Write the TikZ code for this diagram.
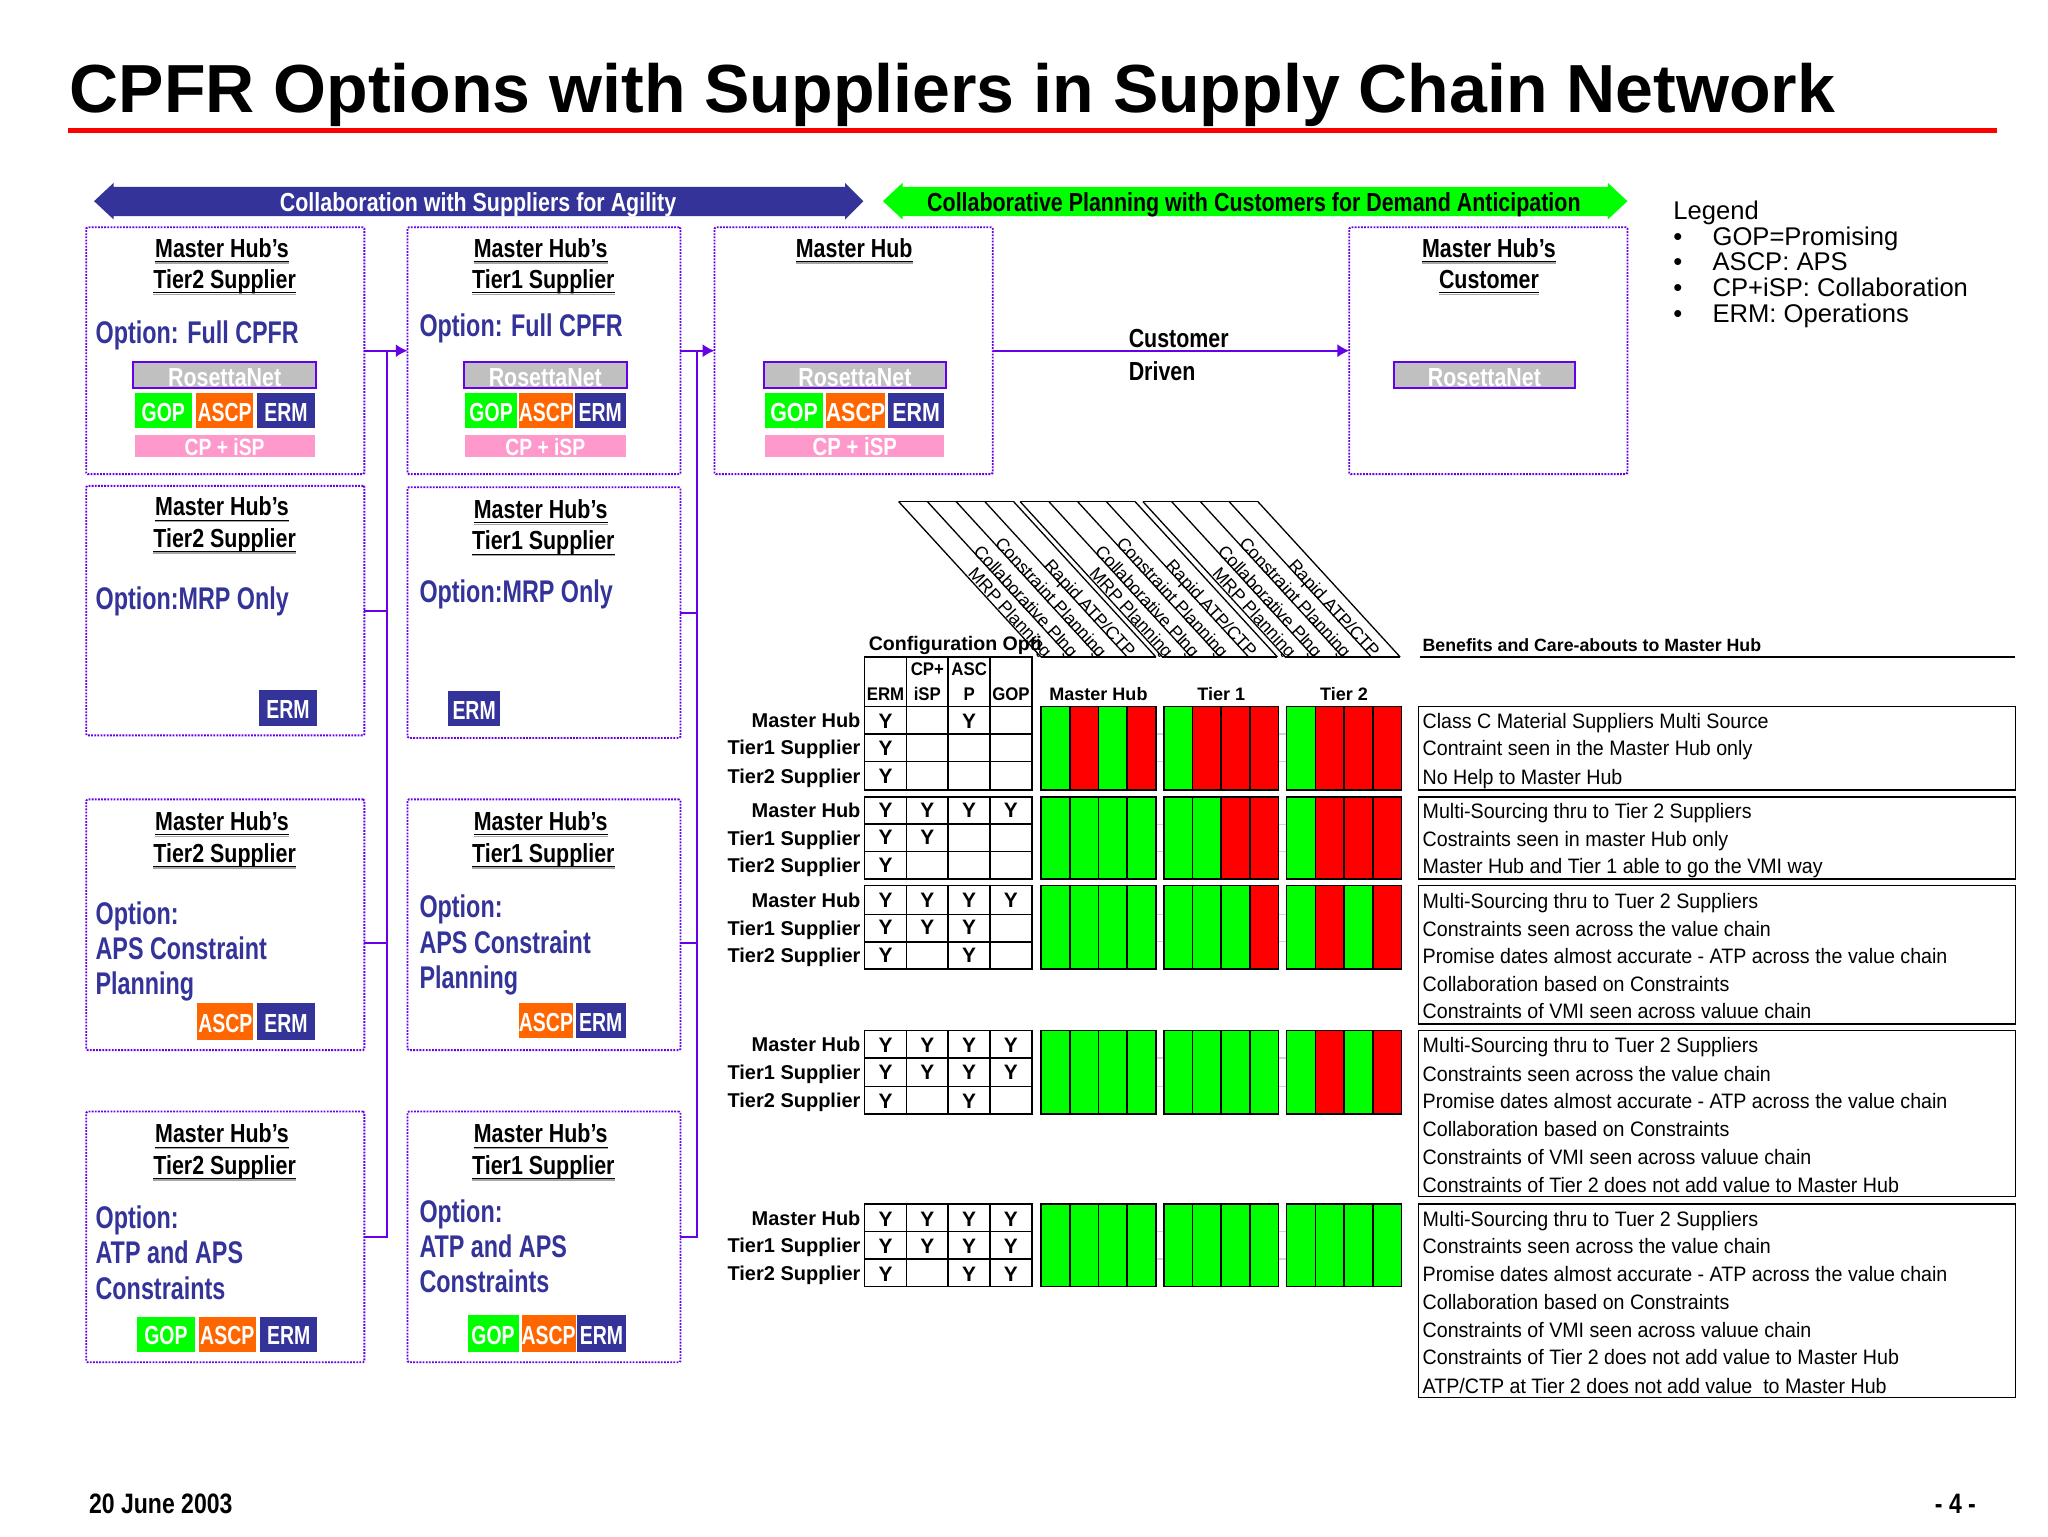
\documentclass[tikz,border=0pt]{standalone}
\usepackage{fontspec}
\usetikzlibrary{arrows.meta}
\setmainfont{Liberation Sans}
\newfontfamily\nar[FakeStretch=0.82]{Liberation Sans}
\newfontfamily\narr[FakeStretch=0.745]{Liberation Sans}
\newfontfamily\narb[FakeStretch=0.92]{Liberation Sans}
\newfontfamily\narc[FakeStretch=0.94]{Liberation Sans}
\definecolor{cBlue}{HTML}{333399}
\definecolor{cGreen}{HTML}{00FF00}
\definecolor{cRed}{HTML}{FF0000}
\definecolor{cOrange}{HTML}{FF6600}
\definecolor{cPink}{HTML}{FF99CC}
\definecolor{cGray}{HTML}{C0C0C0}
\definecolor{cPurple}{HTML}{6600E6}
\tikzset{
  x=1pt,y=-1pt,
  tb/.style={text height={0.9*#1pt},text depth={0.18*#1pt}},
  dbox/.style={draw=cPurple,line width=1.4pt,densely dotted,rounded corners=1pt,inner sep=0pt,outer sep=0pt},
  conn/.style={draw=cPurple,line width=1.5pt},
  arr/.style={conn,-{Latex[length=9pt,width=10pt]}},
  ttl/.style={font=\nar\bfseries\fontsize{20}{24}\selectfont,text=black,inner sep=0pt,text height=17pt,text depth=3pt},
  opt/.style={font=\narr\bfseries\fontsize{24}{28}\selectfont,text=cBlue,inner sep=0pt,anchor=west,tb=24},
  chip/.style={font=\narr\bfseries\fontsize{20}{24}\selectfont,text=white,inner sep=0pt,outer sep=0pt,text height=16.4pt,text depth=0pt},
  chips/.style={font=\nar\bfseries\fontsize{18}{24}\selectfont,text=white,inner sep=0pt,outer sep=0pt,text height=14pt,text depth=0pt},
  chipw/.style={font=\nar\bfseries\fontsize{20}{24}\selectfont,text=white,inner sep=0pt,outer sep=0pt,text height=16.4pt,text depth=0pt},
  chipv/.style={font=\nar\bfseries\fontsize{19}{24}\selectfont,text=white,inner sep=0pt,outer sep=0pt,text height=14.5pt,text depth=0pt},
  rosetta/.style={chipw,fill=cGray,draw=cPurple,line width=1.4pt,text height=18pt,text depth=0pt},
  bar/.style={font=\nar\bfseries\fontsize{20}{26}\selectfont,inner sep=0pt,tb=20},
  lgd/.style={font=\fontsize{19.6}{24}\selectfont,inner sep=0pt,anchor=west,tb=19.6},
  tl/.style={line width=1.2pt,draw=black},
  tick/.style={line width=1pt,draw=gray!35},
  rowlab/.style={font=\bfseries\fontsize{15.3}{18}\selectfont,inner sep=0pt,anchor=east,tb=15.3},
  yy/.style={font=\bfseries\fontsize{16}{18}\selectfont,inner sep=0pt,tb=16},
  hd/.style={font=\narb\bfseries\fontsize{14}{16}\selectfont,inner sep=0pt,tb=14},
  gh/.style={font=\bfseries\fontsize{13.8}{17}\selectfont,inner sep=0pt,tb=13.8},
  slant/.style={font=\fontsize{13.6}{16}\selectfont,inner sep=0pt,rotate=-47.5,anchor=east},
  ben/.style={font=\narc\fontsize{16}{18}\selectfont,inner sep=0pt,anchor=west,tb=16},
  foot/.style={font=\nar\bfseries\fontsize{21.5}{24}\selectfont,inner sep=0pt,tb=21.5},
  drv/.style={font=\nar\bfseries\fontsize{20}{24}\selectfont,inner sep=0pt,anchor=west,tb=20},
}
% name, x1,y1,x2,y2
\newcommand\dotbox[5]{\node[dbox,minimum width={#4-#2},minimum height={#5-#3}] (#1) at ({(#2+#4)/2},{(#3+#5)/2}) {};}
% name,x,y,text
\newcommand\ttlnode[4]{\node[ttl] (#1) at (#2,#3) {#4};
  \draw[gray!70,line width=1.1pt] ([yshift=-1.2pt]#1.south west) -- ([yshift=-1.2pt]#1.south east);
  \draw[black,line width=.8pt] (#1.south west) -- (#1.south east);}
% name,x1,y1,x2,y2,colour,text,style
\newcommand\chipnode[8]{\node[#8,fill=#6,minimum width={#4-#2},minimum height={#5-#3}] (#1) at ({(#2+#4)/2},{(#3+#5)/2}) {#7};}
% y-top,y-bot,x0,c1..c4
\newcommand\blk[7]{\foreach \ii/\cc in {0/#4,1/#5,2/#6,3/#7}{\fill[\cc] ({#3+22*\ii},#1) rectangle ({#3+22*\ii+22},#2);
   \draw[tl] ({#3+22*\ii},#1) rectangle ({#3+22*\ii+22},#2);}}
\newcommand\tbl[5]{\foreach \xa in {662,694,726,758}{\foreach \ya/\yb in {#2/#3,#3/#4,#4/#5}{\draw[tl] (\xa,\ya) rectangle ({\xa+32},\yb);}}
   \node[rowlab] (ml#1) at (659,{(#2+#3)/2}) {Master Hub};
   \node[rowlab] (ta#1) at (659,{(#3+#4)/2}) {Tier1 Supplier};
   \node[rowlab] (tb#1) at (659,{(#4+#5)/2}) {Tier2 Supplier};
   \foreach \ya in {#3,#4}{\draw[tick] (885,\ya) -- (891,\ya); \draw[tick] (979,\ya) -- (985,\ya);}}
\begin{document}
\begin{tikzpicture}
\useasboundingbox (0,0) rectangle (1568,1176);
\fill[white] (0,0) rectangle (1568,1176);
% title
\node[font=\bfseries\fontsize{52.1}{56}\selectfont,inner sep=0pt,anchor=base west] (title) at (53,86) {CPFR Options with Suppliers in Supply Chain Network};
\fill[cRed] (52,98) rectangle (1529,102);
% banners
\fill[cBlue] (72,154) -- (87,140) -- (87,143) -- (647,143) -- (647,140) -- (661,154) -- (647,168) -- (647,165.5) -- (87,165.5) -- (87,168) -- cycle;
\node[bar,text=white] (barL) at (366,155) {Collaboration with Suppliers for Agility};
\fill[cGreen] (676,154) -- (691,140) -- (691,143) -- (1231,143) -- (1231,140) -- (1246,154) -- (1231,168) -- (1231,165.5) -- (691,165.5) -- (691,168) -- cycle;
\node[bar,text=black] (barR) at (960,155) {Collaborative Planning with Customers for Demand Anticipation};
% boxes
\dotbox{a1}{66}{174}{279}{363}
\dotbox{a2}{66}{372}{279}{563}
\dotbox{a3}{66}{612}{279}{804}
\dotbox{a4}{66}{851}{279}{1043}
\dotbox{c1}{312}{174}{521}{363}
\dotbox{c2}{312}{373}{521}{565}
\dotbox{c3}{312}{612}{521}{804}
\dotbox{c4}{312}{851}{521}{1043}
\dotbox{hub}{547}{174}{760}{363}
\dotbox{cust}{1033}{174}{1246}{363}
% connectors
\coordinate (busA) at (296,268.5);
\coordinate (busC) at (534,268.5);
\draw[arr] (a1) -- (c1);
\draw[arr] (c1) -- (hub);
\draw[arr] (hub) -- (cust);
\draw[conn] (a2.east) -| (busA);
\draw[conn] ([yshift=-14pt]a3.east) -| (busA);
\draw[conn] (a4.east) -| (busA);
\draw[conn] (c2.east) -| (busC);
\draw[conn] ([yshift=-14pt]c3.east) -| (busC);
\draw[conn] (c4.east) -| (busC);
\node[drv] (drv1) at (864,259) {Customer};
\node[drv] (drv2) at (864,284) {Driven};
% titles
\ttlnode{t1a}{170}{190}{Master Hub’s}
\ttlnode{t1b}{172}{214}{Tier2 Supplier}
\ttlnode{t2a}{414}{190}{Master Hub’s}
\ttlnode{t2b}{416}{214}{Tier1 Supplier}
\ttlnode{t3a}{654}{190}{Master Hub}
\ttlnode{t4a}{1140}{190}{Master Hub’s}
\ttlnode{t4b}{1140}{214}{Customer}
\ttlnode{t5a}{170}{388}{Master Hub’s}
\ttlnode{t5b}{172}{412}{Tier2 Supplier}
\ttlnode{t6a}{414}{390}{Master Hub’s}
\ttlnode{t6b}{416}{414}{Tier1 Supplier}
\ttlnode{t7a}{170}{629}{Master Hub’s}
\ttlnode{t7b}{172}{653}{Tier2 Supplier}
\ttlnode{t8a}{414}{629}{Master Hub’s}
\ttlnode{t8b}{416}{653}{Tier1 Supplier}
\ttlnode{t9a}{170}{868}{Master Hub’s}
\ttlnode{t9b}{172}{892}{Tier2 Supplier}
\ttlnode{t10a}{414}{868}{Master Hub’s}
\ttlnode{t10b}{416}{892}{Tier1 Supplier}
% options
\node[opt] (o1) at (73,254) {Option: Full CPFR};
\node[opt] (o2) at (321,249) {Option: Full CPFR};
\node[opt] (o3) at (73,458) {Option:MRP Only};
\node[opt] (o4) at (321,453) {Option:MRP Only};
\node[opt] (o5a) at (73,699) {Option:};
\node[opt] (o5b) at (73,726) {APS Constraint};
\node[opt] (o5c) at (73,753) {Planning};
\node[opt] (o6a) at (321,694) {Option:};
\node[opt] (o6b) at (321,721) {APS Constraint};
\node[opt] (o6c) at (321,748) {Planning};
\node[opt] (o7a) at (73,932) {Option:};
\node[opt] (o7b) at (73,959) {ATP and APS};
\node[opt] (o7c) at (73,986) {Constraints};
\node[opt] (o8a) at (321,927) {Option:};
\node[opt] (o8b) at (321,954) {ATP and APS};
\node[opt] (o8c) at (321,981) {Constraints};
% chips
\chipnode{r1}{102}{277}{242}{297}{cGray}{RosettaNet}{rosetta}
\chipnode{g1}{103}{301}{147}{328}{cGreen}{GOP}{chip}
\chipnode{s1}{150}{301}{194}{328}{cOrange}{ASCP}{chip}
\chipnode{e1}{197}{301}{241}{328}{cBlue}{ERM}{chip}
\chipnode{p1}{103}{333}{241}{350}{cPink}{CP + iSP}{chips}
\chipnode{r2}{355}{277}{480}{297}{cGray}{RosettaNet}{rosetta}
\chipnode{g2}{356}{301}{396}{328}{cGreen}{GOP}{chip}
\chipnode{s2}{398}{301}{438}{328}{cOrange}{ASCP}{chip}
\chipnode{e2}{440}{301}{479}{328}{cBlue}{ERM}{chip}
\chipnode{p2}{356}{333}{479}{350}{cPink}{CP + iSP}{chips}
\chipnode{r3}{585}{277}{724}{297}{cGray}{RosettaNet}{rosetta}
\chipnode{g3}{586}{301}{630}{328}{cGreen}{GOP}{chipw}
\chipnode{s3}{633}{301}{677}{328}{cOrange}{ASCP}{chipw}
\chipnode{e3}{680}{301}{723}{328}{cBlue}{ERM}{chipw}
\chipnode{p3}{586}{333}{723}{350}{cPink}{CP + iSP}{chipv}
\chipnode{r4}{1067}{277}{1206}{297}{cGray}{RosettaNet}{rosetta}
\chipnode{e5}{198}{528}{243}{556}{cBlue}{ERM}{chip}
\chipnode{e6}{343}{529}{383}{556}{cBlue}{ERM}{chip}
\chipnode{s7}{151}{768}{194}{796}{cOrange}{ASCP}{chip}
\chipnode{e7}{197}{768}{241}{796}{cBlue}{ERM}{chip}
\chipnode{s8}{398}{768}{438}{795}{cOrange}{ASCP}{chip}
\chipnode{e8}{441}{768}{479}{795}{cBlue}{ERM}{chip}
\chipnode{g9}{105}{1008}{149}{1035}{cGreen}{GOP}{chip}
\chipnode{s9}{152}{1008}{196}{1035}{cOrange}{ASCP}{chip}
\chipnode{e9}{199}{1008}{243}{1035}{cBlue}{ERM}{chip}
\chipnode{g10}{358}{1007}{397}{1035}{cGreen}{GOP}{chip}
\chipnode{s10}{400}{1007}{440}{1035}{cOrange}{ASCP}{chip}
\chipnode{e10}{442}{1007}{479}{1035}{cBlue}{ERM}{chip}
% legend
\node[lgd] (lg0) at (1281,161) {Legend};
\foreach \yy/\tt in {181/GOP=Promising,200/{ASCP: APS},220/{CP+iSP: Collaboration},240/{ERM: Operations}}{
  \node[lgd] at (1281,\yy) {•};
  \node[lgd] at (1311,\yy) {\tt};
}
% slanted headers
\begin{scope}
\clip (680,380) rectangle (1080,503);
\foreach \xt in {688,781,875}{
  \node[slant] at ({\xt+114},502) {MRP Planning};
  \node[slant] at ({\xt+134},502) {Collaborative Plng};
  \node[slant] at ({\xt+156},502) {Constraint Planning};
  \node[slant] at ({\xt+178},502) {Rapid ATP/CTP};
}
\end{scope}
\foreach \xt in {688,781,875}{
  \draw[tl] (\xt,384) -- ({\xt+88},384);
  \draw[tl] ({\xt+109},503) -- ({\xt+197},503);
  \foreach \k in {0,1,2,3,4}{\draw[line width=1pt] ({\xt+22*\k},384) -- ({\xt+109+22*\k},503);}
}
% config table
\node[font=\bfseries\fontsize{15}{18}\selectfont,inner sep=0pt,anchor=west,tb=15] (cfg) at (665,493) {Configuration Opti};
\foreach \xa/\lb in {662/ERM,694/{},726/{},758/GOP}{\draw[tl] (\xa,503) rectangle ({\xa+32},541);}
\node[hd] at (678,531) {ERM};
\node[hd] at (710,512) {CP+};
\node[hd] at (710,531) {iSP};
\node[hd] at (742,512) {ASC};
\node[hd] at (742,531) {P};
\node[hd] at (774,531) {GOP};
\node[gh] (hm) at (841,531) {Master Hub};
\node[gh] (h1) at (935,531) {Tier 1};
\node[gh] (h2) at (1029,531) {Tier 2};
\tbl{1}{541}{562}{583}{605}
\tbl{2}{610}{631}{652}{673}
\tbl{3}{678}{700}{721}{742}
\tbl{4}{789}{810}{832}{853}
\tbl{5}{922}{943}{964}{985}
% Y marks
\foreach \xx/\yy in {678/552,742/552,678/573,678/594,
  678/620,710/620,742/620,774/620,678/641,710/641,678/662,
  678/689,710/689,742/689,774/689,678/710,710/710,742/710,678/731,742/731,
  678/800,710/800,742/800,774/800,678/821,710/821,742/821,774/821,678/843,742/843,
  678/933,710/933,742/933,774/933,678/954,710/954,742/954,774/954,678/975,742/975,774/975}{
  \node[yy] at (\xx,\yy) {Y};
}
% status blocks
\blk{541}{605}{797}{cGreen}{cRed}{cGreen}{cRed}
\blk{541}{605}{891}{cGreen}{cRed}{cRed}{cRed}
\blk{541}{605}{985}{cGreen}{cRed}{cRed}{cRed}
\blk{610}{673}{797}{cGreen}{cGreen}{cGreen}{cGreen}
\blk{610}{673}{891}{cGreen}{cGreen}{cRed}{cRed}
\blk{610}{673}{985}{cGreen}{cRed}{cRed}{cRed}
\blk{678}{742}{797}{cGreen}{cGreen}{cGreen}{cGreen}
\blk{678}{742}{891}{cGreen}{cGreen}{cGreen}{cRed}
\blk{678}{742}{985}{cGreen}{cRed}{cGreen}{cRed}
\blk{789}{853}{797}{cGreen}{cGreen}{cGreen}{cGreen}
\blk{789}{853}{891}{cGreen}{cGreen}{cGreen}{cGreen}
\blk{789}{853}{985}{cGreen}{cRed}{cGreen}{cRed}
\blk{922}{985}{797}{cGreen}{cGreen}{cGreen}{cGreen}
\blk{922}{985}{891}{cGreen}{cGreen}{cGreen}{cGreen}
\blk{922}{985}{985}{cGreen}{cGreen}{cGreen}{cGreen}
% benefits
\node[font=\bfseries\fontsize{13.6}{17}\selectfont,inner sep=0pt,anchor=west,tb=13.6] (bh) at (1089,494) {Benefits and Care-abouts to Master Hub};
\draw[tl] (1087,503) -- (1543,503);
\draw[tl] (1086,541) rectangle (1543,605);
\draw[tl] (1086,610) rectangle (1543,673);
\draw[tl] (1086,678) rectangle (1543,784);
\draw[tl] (1086,789) rectangle (1543,916);
\draw[tl] (1086,922) rectangle (1543,1070);
\foreach \yy/\tt in {552/Class C Material Suppliers Multi Source,573/Contraint seen in the Master Hub only,595/No Help to Master Hub,
 621/Multi-Sourcing thru to Tier 2 Suppliers,642/Costraints seen in master Hub only,663/Master Hub and Tier 1 able to go the VMI way,
 690/Multi-Sourcing thru to Tuer 2 Suppliers,711/Constraints seen across the value chain,732/Promise dates almost accurate - ATP across the value chain,753/Collaboration based on Constraints,774/Constraints of VMI seen across valuue chain,
 800/Multi-Sourcing thru to Tuer 2 Suppliers,822/Constraints seen across the value chain,843/Promise dates almost accurate - ATP across the value chain,864/Collaboration based on Constraints,886/Constraints of VMI seen across valuue chain,907/Constraints of Tier 2 does not add value to Master Hub,
 933/Multi-Sourcing thru to Tuer 2 Suppliers,954/Constraints seen across the value chain,975/Promise dates almost accurate - ATP across the value chain,997/Collaboration based on Constraints,1018/Constraints of VMI seen across valuue chain,1039/Constraints of Tier 2 does not add value to Master Hub,1061/{ATP/CTP at Tier 2 does not add value~ to Master Hub}}{
  \node[ben] at (1089,\yy) {\tt};
}
% footer
\node[foot,anchor=west] (date) at (68,1151) {20 June 2003};
\node[foot,anchor=east] (page) at (1513,1151) {- 4 -};
\end{tikzpicture}
\end{document}
